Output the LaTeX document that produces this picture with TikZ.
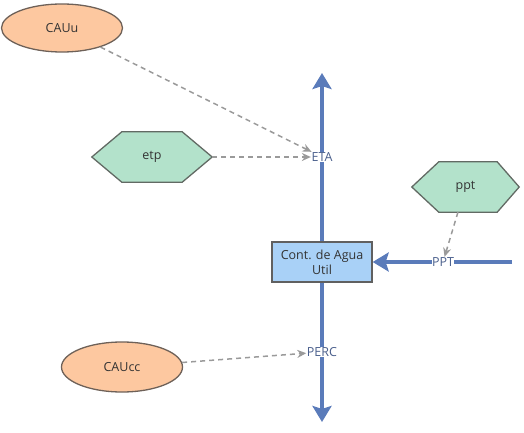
\documentclass[tikz,border=0pt]{standalone}
\usepackage{fontspec}
\setmainfont{Open Sans}
\usetikzlibrary{arrows.meta,backgrounds,shapes.geometric}
\definecolor{flowc}{HTML}{5A7BBA}
\definecolor{flowt}{HTML}{4A5F8C}
\definecolor{linkc}{HTML}{9A9A9A}
\definecolor{ellf}{HTML}{FDC8A0}
\definecolor{elld}{HTML}{6E6158}
\definecolor{hexf}{HTML}{B3E2CB}
\definecolor{hexd}{HTML}{626A64}
\definecolor{boxf}{HTML}{A9D1F7}
\definecolor{boxd}{HTML}{606060}
\definecolor{txt}{HTML}{333333}
\begin{document}
\begin{tikzpicture}[x=1pt,y=-1pt,font=\fontsize{12.5}{15}\selectfont,
 stockbox/.style={draw=boxd,fill=boxf,line width=1.3pt,minimum width=100pt,minimum height=40pt,align=center,inner sep=1pt,text=txt},
 ell/.style={ellipse,draw=elld,fill=ellf,line width=1.3pt,minimum width=121pt,minimum height=48pt,text=txt},
 hexnode/.style={minimum width=#1,minimum height=50pt,inner sep=0pt,text=txt},
 hexdraw/.style={draw=hexd,fill=hexf,line width=1.3pt},
 flowlabel/.style={fill=white,text=flowt,inner sep=0.5pt},
 flow/.style={draw=flowc,line width=3.5pt,-{Stealth[length=16pt,width=19pt,inset=3pt]}},
 link/.style={draw=linkc,line width=1.5pt,dash pattern=on 5pt off 4pt,-{Stealth[length=9pt,width=8pt]}}]
\useasboundingbox (0,0) rectangle (524,433);
\node[ell] (CAUu) at (62,28) {CAUu};
\node[ell,minimum height=50pt] (CAUcc) at (122,367) {CAUcc};
\node[hexnode=120pt] (etp) at (152,157) {etp};
\node[hexnode=107pt] (ppt) at (465.5,187) {ppt};
\node[stockbox] (cont) at (322,262) {Cont. de Agua\\Util};
\coordinate (top) at (322,73);
\coordinate (bot) at (322,422);
\coordinate (src) at (512,262);
\node[flowlabel] (ETA) at (322,157) {ETA};
\node[flowlabel] (PERC) at (322,352) {PERC};
\node[flowlabel] (PPT) at (443,262) {PPT};
\begin{scope}[on background layer]
\draw[hexdraw] (etp.west) -- ([xshift=30pt]etp.north west) -- ([xshift=-30pt]etp.north east) -- (etp.east) -- ([xshift=-30pt]etp.south east) -- ([xshift=30pt]etp.south west) -- cycle;
\draw[hexdraw] (ppt.west) -- ([xshift=27pt]ppt.north west) -- ([xshift=-22pt]ppt.north east) -- (ppt.east) -- ([xshift=-22pt]ppt.south east) -- ([xshift=27pt]ppt.south west) -- cycle;
\draw[flow] (cont) -- (top);
\draw[flow] (cont) -- (bot);
\draw[flow] (src) -- (cont);
\end{scope}
\draw[link] (CAUu) -- (ETA);
\draw[link] (etp.east) -- (ETA);
\draw[link] (ppt) -- (PPT);
\draw[link] (CAUcc) -- (PERC);
\end{tikzpicture}
\end{document}
